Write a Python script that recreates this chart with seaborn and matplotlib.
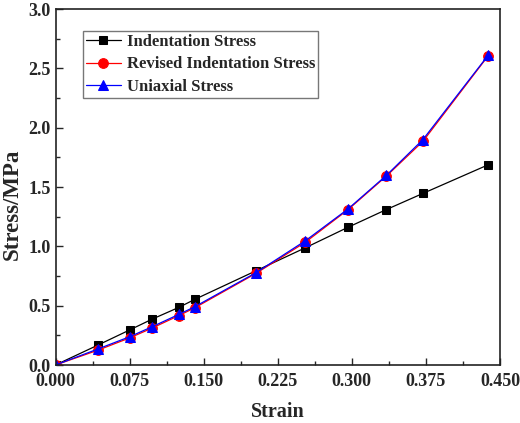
import matplotlib
matplotlib.use("Agg")
import matplotlib.pyplot as plt
import seaborn as sns
import numpy as np
import pandas as pd
from matplotlib.ticker import MultipleLocator, FormatStrFormatter

strain = [0.0, 0.043, 0.075, 0.098, 0.125, 0.141, 0.203, 0.253, 0.296, 0.335, 0.372, 0.438]
indentation = [0.0, 0.168, 0.295, 0.387, 0.486, 0.553, 0.794, 0.988, 1.16, 1.31, 1.446, 1.687]
revised = [0.0, 0.125, 0.228, 0.312, 0.417, 0.482, 0.772, 1.035, 1.308, 1.592, 1.885, 2.605]
uniaxial = [0.0, 0.135, 0.238, 0.323, 0.427, 0.491, 0.778, 1.047, 1.314, 1.598, 1.90, 2.61]

labels = ["Indentation Stress", "Revised Indentation Stress", "Uniaxial Stress"]

sns.set_style("ticks")
plt.rcParams['font.family'] = ['Liberation Serif', 'DejaVu Serif']
plt.rcParams['font.weight'] = 'bold'

fig = plt.figure(figsize=(5.2, 4.23), dpi=100)
ax = fig.add_axes([55.5/520, 58/423, 444.5/520, 356/423])

series = [
    (indentation, labels[0], "black", "s", 6),
    (revised, labels[1], "red", "o", 7),
    (uniaxial, labels[2], "blue", "^", 7.5),
]
for vals, lab, col, mk, ms in series:
    df = pd.DataFrame({"Strain": strain, "Stress": vals})
    sns.lineplot(data=df, x="Strain", y="Stress", ax=ax, color=col, marker=mk,
                 markersize=ms, markeredgecolor=col, linewidth=0.9, label=lab,
                 sort=False, errorbar=None)

ax.set_xlim(0, 0.45)
ax.set_ylim(0, 3.0)
ax.xaxis.set_major_locator(MultipleLocator(0.075))
ax.xaxis.set_minor_locator(MultipleLocator(0.0375))
ax.yaxis.set_major_locator(MultipleLocator(0.5))
ax.yaxis.set_minor_locator(MultipleLocator(0.25))
ax.xaxis.set_major_formatter(FormatStrFormatter('%.3f'))
ax.yaxis.set_major_formatter(FormatStrFormatter('%.1f'))
ax.tick_params(which='major', direction='in', length=5, width=1, labelsize=13,
               top=False, right=False)
ax.tick_params(which='minor', direction='in', length=3, width=1, top=False, right=False)
ax.tick_params(axis='x', which='major', pad=6)
for t in ax.get_xticklabels() + ax.get_yticklabels():
    t.set_fontweight('bold')
for s in ax.spines.values():
    s.set_linewidth(1.2)
    s.set_color('#222222')
    s.set_visible(True)

ax.set_xlabel("Strain", fontsize=14.5, fontweight='bold')
ax.set_ylabel("Stress/MPa", fontsize=16.5, fontweight='bold')
ax.xaxis.set_label_coords(0.5, -0.104)
ax.yaxis.set_label_coords(-0.073, 0.452)

leg = ax.legend(loc='upper left', bbox_to_anchor=(0.061, 0.939), borderaxespad=0,
                frameon=True, fancybox=False, handlelength=2.1,
                labelspacing=0.38, handletextpad=0.35, borderpad=0.2,
                prop={'weight': 'bold', 'size': 12})
leg.get_frame().set_edgecolor('#555555')
leg.get_frame().set_linewidth(1.0)

fig.savefig("out.png", dpi=100)
